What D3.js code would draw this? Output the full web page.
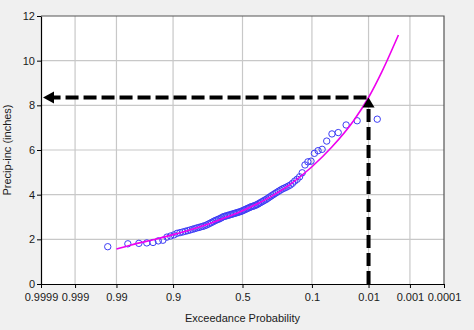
<!DOCTYPE html>
<html>
<head>
<meta charset="utf-8">
<script src="https://cdn.jsdelivr.net/npm/d3@7"></script>
<style>
  html, body { margin: 0; padding: 0; background: #f0f0f0; }
  svg { display: block; }
  text { font-family: "Liberation Sans", Arial, sans-serif; }
</style>
</head>
<body>
<svg id="chart" width="474" height="330"></svg>
<script>
// Exceedance probability tick labels on the normal-probability axis
const probTicks = [0.9999, 0.999, 0.99, 0.9, 0.5, 0.1, 0.01, 0.001, 0.0001];
const valueTicks = [0, 2, 4, 6, 8, 10, 12];

// Observed precipitation depths (inches), ranked largest first
const precip = [
  7.38, 7.31, 7.12, 6.78, 6.72, 6.40, 6.03, 5.97, 5.85, 5.50,
  5.47, 5.33, 4.98, 4.80, 4.69, 4.61, 4.51, 4.43, 4.38, 4.33,
  4.29, 4.25, 4.20, 4.15, 4.10, 4.05, 4.00, 3.95, 3.90, 3.85,
  3.80, 3.76, 3.72, 3.68, 3.64, 3.60, 3.56, 3.53, 3.50, 3.48,
  3.46, 3.43, 3.40, 3.37, 3.34, 3.31, 3.28, 3.25, 3.23, 3.21,
  3.19, 3.17, 3.15, 3.13, 3.11, 3.09, 3.07, 3.05, 3.03, 3.01,
  2.97, 2.93, 2.90, 2.87, 2.84, 2.80, 2.76, 2.72, 2.68, 2.64,
  2.61, 2.58, 2.56, 2.53, 2.51, 2.48, 2.45, 2.42, 2.39, 2.36,
  2.33, 2.30, 2.27, 2.20, 2.15, 2.10, 1.96, 1.93, 1.86, 1.84,
  1.82, 1.80, 1.67
];

// Fitted frequency curve: exceedance probability and depth
const fitProb  = [0.99, 0.98, 0.95, 0.9, 0.8, 0.7, 0.6, 0.5, 0.4, 0.3, 0.2, 0.1, 0.05, 0.02, 0.01, 0.005, 0.002];
const fitValue = [1.57, 1.75, 1.98, 2.21, 2.52, 2.78, 3.03, 3.28, 3.57, 3.91, 4.39, 5.25, 6.12, 7.32, 8.35, 9.52, 11.15];

// Design event
const designProb = 0.01;

// Inverse standard normal CDF (Acklam's rational approximation)
function probit(p) {
  const a = [-3.969683028665376e+01, 2.209460984245205e+02, -2.759285104469687e+02,
             1.383577518672690e+02, -3.066479806614716e+01, 2.506628277459239e+00];
  const b = [-5.447609879822406e+01, 1.615858368580409e+02, -1.556989798598866e+02,
             6.680131188771972e+01, -1.328068155288572e+01];
  const c = [-7.784894002430293e-03, -3.223964580411365e-01, -2.400758277161838e+00,
             -2.549732539343734e+00, 4.374664141464968e+00, 2.938163982698783e+00];
  const d = [7.784695709041462e-03, 3.224671290700398e-01, 2.445134111733850e+00,
             3.754408661907416e+00];
  const plow = 0.02425;
  let q, r;
  if (p < plow) {
    q = Math.sqrt(-2 * Math.log(p));
    return (((((c[0]*q + c[1])*q + c[2])*q + c[3])*q + c[4])*q + c[5]) /
           ((((d[0]*q + d[1])*q + d[2])*q + d[3])*q + 1);
  } else if (p <= 1 - plow) {
    q = p - 0.5; r = q * q;
    return (((((a[0]*r + a[1])*r + a[2])*r + a[3])*r + a[4])*r + a[5]) * q /
           (((((b[0]*r + b[1])*r + b[2])*r + b[3])*r + b[4])*r + 1);
  } else {
    q = Math.sqrt(-2 * Math.log(1 - p));
    return -(((((c[0]*q + c[1])*q + c[2])*q + c[3])*q + c[4])*q + c[5]) /
            ((((d[0]*q + d[1])*q + d[2])*q + d[3])*q + 1);
  }
}
// Standard normal variate for an exceedance probability (rare events to the right)
const zOf = p => -probit(p);

const svg = d3.select("#chart");
const W = 474, H = 330;
const plot = { left: 41, right: 444, top: 16, bottom: 284 };

const x = d3.scaleLinear()
  .domain([zOf(probTicks[0]), zOf(probTicks[probTicks.length - 1])])
  .range([plot.left, plot.right]);
const y = d3.scaleLinear()
  .domain([0, 12])
  .range([plot.bottom, plot.top]);

svg.append("rect").attr("width", W).attr("height", H).attr("fill", "#f0f0f0");
svg.append("rect")
  .attr("x", plot.left).attr("y", plot.top)
  .attr("width", plot.right - plot.left).attr("height", plot.bottom - plot.top)
  .attr("fill", "#ffffff");

// Grid
const grid = svg.append("g").attr("stroke", "#c8c8c8").attr("stroke-width", 1.2);
grid.selectAll("line.v")
  .data(probTicks.slice(1, -1))
  .join("line")
  .attr("x1", d => x(zOf(d))).attr("x2", d => x(zOf(d)))
  .attr("y1", plot.top).attr("y2", plot.bottom);
grid.selectAll("line.h")
  .data(valueTicks.slice(1, -1))
  .join("line")
  .attr("y1", d => y(d)).attr("y2", d => y(d))
  .attr("x1", plot.left).attr("x2", plot.right);

// Frame (top / right)
svg.append("path")
  .attr("d", `M${plot.left},${plot.top}H${plot.right}V${plot.bottom}`)
  .attr("fill", "none").attr("stroke", "#555").attr("stroke-width", 1.2);

// Axes
const xAxis = d3.axisBottom(x)
  .tickValues(probTicks.map(zOf))
  .tickFormat((d, i) => String(probTicks[i]))
  .tickSize(4).tickSizeOuter(0);
const yAxis = d3.axisLeft(y)
  .tickValues(valueTicks)
  .tickSize(4).tickSizeOuter(0);

const gx = svg.append("g").attr("transform", `translate(0,${plot.bottom})`).call(xAxis);
const gy = svg.append("g").attr("transform", `translate(${plot.left},0)`).call(yAxis);
[gx, gy].forEach(g => {
  g.select(".domain").attr("stroke", "#000").attr("stroke-width", 1.2);
  g.selectAll(".tick line").attr("stroke", "#000");
  g.selectAll(".tick text")
    .attr("fill", "#1a1a1a")
    .style("font-size", "11px")
    .style("font-family", '"Liberation Sans", Arial, sans-serif');
});
gx.selectAll(".tick text").attr("dy", "0.95em");
gy.selectAll(".tick text").attr("x", -6);

// Observed points at Cunnane plotting positions
const n = precip.length;
const observed = precip.map((v, i) => ({ p: (i + 1 - 0.4) / (n + 0.2), v }));
svg.append("g")
  .selectAll("circle")
  .data(observed)
  .join("circle")
  .attr("cx", d => x(zOf(d.p)))
  .attr("cy", d => y(d.v))
  .attr("r", 3.2)
  .attr("fill", "none")
  .attr("stroke", "#3d3df5")
  .attr("stroke-width", 1);

// Fitted curve
const fit = fitProb.map((p, i) => ({ p, v: fitValue[i] }));
const line = d3.line()
  .x(d => x(zOf(d.p)))
  .y(d => y(d.v))
  .curve(d3.curveMonotoneX);
svg.append("path")
  .datum(fit)
  .attr("d", line)
  .attr("fill", "none")
  .attr("stroke", "#ee00ee")
  .attr("stroke-width", 1.6);

// Design-value read-off arrows
const designValue = fitValue[fitProb.indexOf(designProb)];
const dx = x(zOf(designProb)), dy = y(designValue);
const arrows = svg.append("g");
const dash = "13,5";
// horizontal: from the curve back to the depth axis
arrows.append("line")
  .attr("x1", dx - 2).attr("x2", plot.left + 12)
  .attr("y1", dy).attr("y2", dy)
  .attr("stroke", "#000").attr("stroke-width", 4)
  .attr("stroke-dasharray", dash);
arrows.append("path")
  .attr("d", `M${plot.left + 2},${dy}L${plot.left + 13},${dy - 6}L${plot.left + 13},${dy + 6}Z`)
  .attr("fill", "#000");
// vertical: from the probability axis up to the curve
arrows.append("line")
  .attr("x1", dx).attr("x2", dx)
  .attr("y1", plot.bottom).attr("y2", dy + 10)
  .attr("stroke", "#000").attr("stroke-width", 4)
  .attr("stroke-dasharray", dash);
arrows.append("path")
  .attr("d", `M${dx},${dy}L${dx - 6},${dy + 10}L${dx + 6},${dy + 10}Z`)
  .attr("fill", "#000");

// Axis titles
svg.append("text")
  .attr("x", (plot.left + plot.right) / 2).attr("y", 322)
  .attr("text-anchor", "middle")
  .style("font-size", "11px").attr("fill", "#1a1a1a")
  .text("Exceedance Probability");
svg.append("text")
  .attr("transform", `translate(11,${(plot.top + plot.bottom) / 2}) rotate(-90)`)
  .attr("text-anchor", "middle")
  .style("font-size", "11px").attr("fill", "#1a1a1a")
  .text("Precip-inc (inches)");
</script>
</body>
</html>
